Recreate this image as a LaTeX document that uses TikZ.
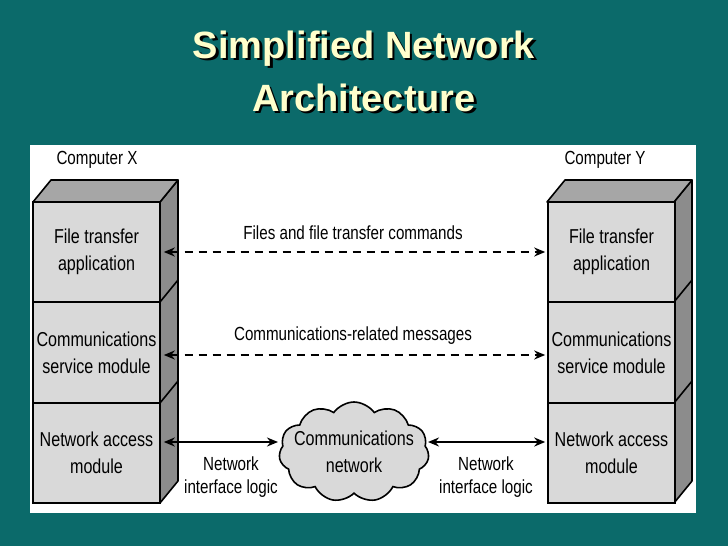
\documentclass[tikz,border=0pt]{standalone}
\usepackage{fontspec}
\setmainfont{Liberation Sans}
\usetikzlibrary{shapes.symbols,arrows.meta}
\definecolor{bg}{HTML}{0B6A6A}
\definecolor{titlec}{HTML}{FFFFCC}
\definecolor{boxg}{HTML}{D9D9D9}
\definecolor{sideg}{HTML}{8C8C8C}
\begin{document}
\begin{tikzpicture}[x=1pt,y=-1pt,
  lbl/.style={font=\fontsize{16.5}{19.5}\selectfont,align=center,text=black,inner sep=0pt,yscale=1.15,xscale=0.92},
  layer/.style={draw=black,line width=1.6pt,fill=boxg,minimum width=127pt,minimum height=100pt,inner sep=0pt},
  ltxt/.style={font=\fontsize{17.5}{23.5}\selectfont,align=center,inner sep=0pt,yscale=1.15,xscale=0.92},
  arr/.style={{Stealth[length=11pt,width=9pt]}-{Stealth[length=11pt,width=9pt]},line width=1.8pt},
  dsh/.style={arr,dash pattern=on 8pt off 6pt}]
\useasboundingbox (0,0) rectangle (728,546);
\fill[bg] (0,0) rectangle (728,546);
\fill[white] (30,145) rectangle (696,513);
% title
\foreach \dx/\c in {2.5/black,0/titlec}{
\node[font=\bfseries\fontsize{38}{53}\selectfont,text=\c,align=center] at (364+\dx,71+\dx) {Simplified Network\\Architecture};}
% stacks
\foreach \s/\x in {L/33,R/547}{
  \fill[sideg,draw=black,line width=1.6pt,line join=round] (\x+127,202) -- (\x+145,180) -- (\x+145,481) -- (\x+127,503) -- cycle;
  \fill[gray!70,draw=black,line width=1.6pt,line join=round] (\x,202) -- (\x+18,180) -- (\x+145,180) -- (\x+127,202) -- cycle;
  \draw[line width=1.6pt] (\x+127,302) -- (\x+145,280) (\x+127,403) -- (\x+145,381);
}
\node[layer] (fl) at (96.5,252) {};
\node[layer] (cl) at (96.5,352.5) {};
\node[layer] (nl) at (96.5,453) {};
\node[layer] (fr) at (611.5,252) {};
\node[layer] (cr) at (611.5,352.5) {};
\node[layer] (nr) at (611.5,453) {};
\foreach \n/\t in {fl/{File transfer\\application},cl/{Communications\\service module},nl/{Network access\\module},fr/{File transfer\\application},cr/{Communications\\service module},nr/{Network access\\module}}
  \node[ltxt] at (\n) {\t};
\node[lbl] (cx) at (97,160) {Computer X};
\node[lbl] (cy) at (605,160) {Computer Y};
\node[cloud,cloud puffs=11,cloud puff arc=110,aspect=1.4,draw=black,line width=1.6pt,fill=boxg,minimum width=150pt,minimum height=100pt,inner sep=0pt] (net) at (354,452) {};
\node[ltxt] at (net) {Communications\\network};
\draw[dsh] ([xshift=3pt]fl.east) -- ([xshift=-2pt]fr.west);
\draw[dsh] ([xshift=3pt]cl.east|-0,355) -- ([xshift=-2pt]cr.west|-0,355);
\draw[arr] ([xshift=3pt]nl.east|-0,442) -- (278,442);
\draw[arr] (428,442) -- ([xshift=-2pt]nr.west|-0,442);
\node[lbl] (t1) at (353,233) {Files and file transfer commands};
\node[lbl] (t2) at (353,336) {Communications-related messages};
\node[lbl] (n1) at (231,477) {Network\\interface logic};
\node[lbl] (n2) at (486,477) {Network\\interface logic};
\end{tikzpicture}
\end{document}
